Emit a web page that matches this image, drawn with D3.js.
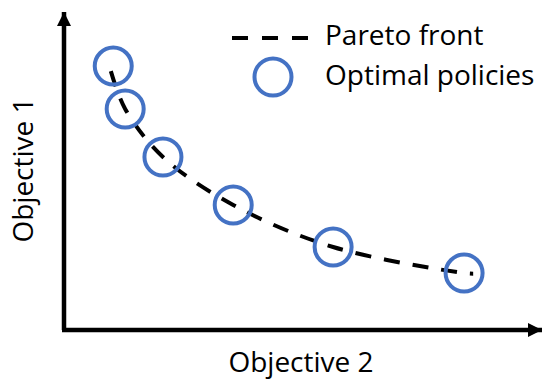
<!DOCTYPE html>
<html>
<head>
<meta charset="utf-8">
<script src="https://cdn.jsdelivr.net/npm/d3@7"></script>
<style>
  body { margin: 0; background: #fff; }
  text { font-family: "Open Sans", sans-serif; fill: #000; }
</style>
</head>
<body>
<svg id="chart" width="550" height="391"></svg>
<script>
// optimal policies (objective 2 on x, objective 1 on y), 0..100 units
var policyX = [10.3, 12.8, 20.7, 35.4, 56.3, 83.7];
var policyY = [83.0, 69.5, 54.4, 39.3, 26.1, 17.9];

// pareto front line
var frontX = [9.8, 12.8, 20.7, 35.4, 56.3, 83.7, 85.6];
var frontY = [81.4, 69.5, 54.4, 39.3, 26.1, 17.9, 17.7];

var legendLabels = ["Pareto front", "Optimal policies"];
var xTitle = "Objective 2";
var yTitle = "Objective 1";

var blue = "#4472c4";

var svg = d3.select("#chart");

var x = d3.scaleLinear().domain([0, 100]).range([64, 542]);
var y = d3.scaleLinear().domain([0, 100]).range([330, 12]);

// arrow head
svg.append("defs").append("marker")
    .attr("id", "arrow")
    .attr("viewBox", "0 0 14 14")
    .attr("refX", 14)
    .attr("refY", 7)
    .attr("markerWidth", 14)
    .attr("markerHeight", 14)
    .attr("markerUnits", "userSpaceOnUse")
    .attr("orient", "auto")
  .append("path")
    .attr("d", "M0,0 L14,7 L0,14 Z")
    .attr("fill", "#000");

// axes (drawn as arrows, no ticks)
svg.append("line")
    .attr("x1", x(0)).attr("y1", y(0))
    .attr("x2", x(0)).attr("y2", y(100))
    .attr("stroke", "#000").attr("stroke-width", 4.5)
    .attr("marker-end", "url(#arrow)");

svg.append("line")
    .attr("x1", x(0) - 2).attr("y1", y(0))
    .attr("x2", x(100)).attr("y2", y(0))
    .attr("stroke", "#000").attr("stroke-width", 4.5)
    .attr("marker-end", "url(#arrow)");

// front
var frontData = frontX.map(function(d, i){ return [d, frontY[i]]; });
var line = d3.line()
    .x(function(d){ return x(d[0]); })
    .y(function(d){ return y(d[1]); })
    .curve(d3.curveCatmullRom);

svg.append("path")
    .datum(frontData)
    .attr("d", line)
    .attr("fill", "none")
    .attr("stroke", "#000")
    .attr("stroke-width", 4)
    .attr("stroke-dasharray", "16,13");

// policies
svg.selectAll("circle.policy")
    .data(policyX)
    .enter()
    .append("circle")
    .attr("class", "policy")
    .attr("cx", function(d){ return x(d); })
    .attr("cy", function(d, i){ return y(policyY[i]); })
    .attr("r", 18.5)
    .attr("fill", "none")
    .attr("stroke", blue)
    .attr("stroke-width", 4);

// legend
var legend = svg.append("g");
legend.append("line")
    .attr("x1", 232).attr("y1", 38)
    .attr("x2", 310).attr("y2", 38)
    .attr("stroke", "#000").attr("stroke-width", 4)
    .attr("stroke-dasharray", "16,14");
legend.append("circle")
    .attr("cx", 273).attr("cy", 77)
    .attr("r", 18.5)
    .attr("fill", "none")
    .attr("stroke", blue)
    .attr("stroke-width", 4);
legend.selectAll("text")
    .data(legendLabels)
    .enter()
    .append("text")
    .attr("x", 325)
    .attr("y", function(d, i){ return 45 + i * 40; })
    .style("font-size", "28px")
    .text(function(d){ return d; });

// axis titles
svg.append("text")
    .attr("x", 301)
    .attr("y", 372)
    .attr("text-anchor", "middle")
    .style("font-size", "28px")
    .text(xTitle);

svg.append("text")
    .attr("transform", "translate(33,170) rotate(-90)")
    .attr("text-anchor", "middle")
    .style("font-size", "28px")
    .text(yTitle);
</script>
</body>
</html>
